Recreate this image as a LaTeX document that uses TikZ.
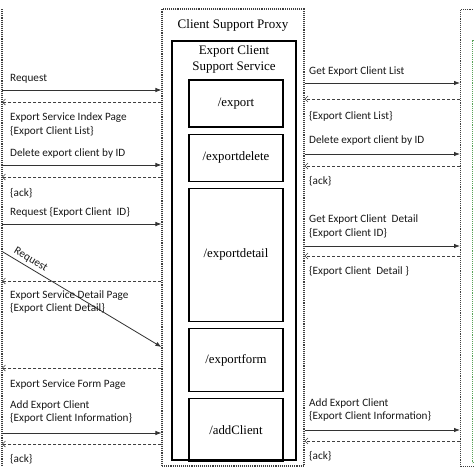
\documentclass[tikz,border=0pt]{standalone}
\usepackage{fontspec}
\setmainfont{Liberation Serif}
\newfontfamily\msgfont{Carlito}
\usetikzlibrary{arrows.meta,positioning}

\begin{document}
\begin{tikzpicture}[x=1pt,y=-1pt,
    lifeline/.style={draw=black!75,densely dotted,line width=1.1pt},
    call/.style={-{Latex[length=6pt,width=4.5pt]},draw=black!80,line width=0.8pt},
    reply/.style={-{Straight Barb[length=3pt,width=6pt]},draw=black!75,densely dashed,line width=0.6pt},
    msg/.style={anchor=west,align=left,inner sep=0pt,text=black!90,
      font=\msgfont\fontsize{11.2}{13.5}\selectfont},
    svc/.style={draw,line width=1.2pt,minimum width=94pt,font=\fontsize{12.8}{14}\selectfont}]
    \clip (0,0) rectangle (474,474);
    \fill[white] (0,0) rectangle (474,474);

    % lifelines
    \coordinate (cl-top) at (2,9);
    \coordinate (cl-bot) at (2,466);
    \draw[lifeline] (cl-top) -- (cl-bot);
    \node[lifeline,draw,minimum width=142pt,minimum height=457pt] (proxy) at (233,237.5) {};
    \node[lifeline,draw,minimum width=60pt,minimum height=457pt,anchor=north west] (store) at (460,9) {};
    \node[draw=green!45!black!65,densely dotted,line width=1.1pt,minimum width=40pt,minimum height=422pt,anchor=north west] (db) at (472,40) {};

    % proxy and its service
    \node[font=\fontsize{13}{14}\selectfont,below=7pt of proxy.north] (proxy-title) {Client Support Proxy};
    \node[draw,line width=1.3pt,minimum width=124pt,minimum height=419pt] (service) at (234,250.5) {};
    \node[align=center,font=\fontsize{13}{15.5}\selectfont,below=2pt of service.north] (service-title) {Export Client\\Support Service};
    \node[svc,minimum height=47pt] (export) at (236,103.5) {/export};
    \node[svc,minimum height=47pt,below=6pt of export] (exportdelete) {/exportdelete};
    \node[svc,minimum height=133pt,below=6pt of exportdelete] (exportdetail) {/exportdetail};
    \node[svc,minimum height=63pt,below=6pt of exportdetail] (exportform) {/exportform};
    \node[svc,minimum height=63pt,below=6pt of exportform] (addClient) {/addClient};

    % client <-> proxy
    \foreach \y in {90,165,224,433}
      \draw[call] (cl-top |- 0,\y) -- (proxy.west |- 0,\y);
    \foreach \y in {102,177,281,368,444}
      \draw[reply] (proxy.west |- 0,\y) -- (cl-top |- 0,\y);
    \coordinate (req-start) at (3,252);
    \draw[call] (req-start) -- node[msg,pos=0.15,sloped,anchor=south,yshift=2.5pt] {Request} (proxy.west |- 0,347);

    \node[msg] (m1) at (10,79) {Request};
    \node[msg] (m2) at (10,124.5) {Export Service Index Page\\\{Export Client List\}};
    \node[msg] (m3) at (10,154) {Delete export client by ID};
    \node[msg] (m4) at (10,193) {\{ack\}};
    \node[msg] (m5) at (10,212) {Request \{Export Client\ \ ID\}};
    \node[msg] (m6) at (10,302) {Export Service Detail Page\\\{Export Client Detail\}};
    \node[msg] (m7) at (10,385) {Export Service Form Page};
    \node[msg] (m8) at (10,412) {Add Export Client\\\{Export Client Information\}};
    \node[msg] (m9) at (10,459) {\{ack\}};

    % proxy <-> store
    \foreach \y in {83,154,246,430}
      \draw[call] (proxy.east |- 0,\y) -- (store.west |- 0,\y);
    \foreach \y in {99,166,256,441}
      \draw[reply] (store.west |- 0,\y) -- (proxy.east |- 0,\y);

    \node[msg] (s1) at (309,72) {Get Export Client List};
    \node[msg] (s2) at (309,116) {\{Export Client List\}};
    \node[msg] (s3) at (309,141) {Delete export client by ID};
    \node[msg] (s4) at (309,181) {\{ack\}};
    \node[msg] (s5) at (309,226.5) {Get Export Client\ \ Detail\\\{Export Client ID\}};
    \node[msg] (s6) at (309,271) {\{Export Client\ \ Detail \}};
    \node[msg] (s7) at (309,410) {Add Export Client\\\{Export Client Information\}};
    \node[msg] (s8) at (309,456) {\{ack\}};
\end{tikzpicture}
\end{document}
